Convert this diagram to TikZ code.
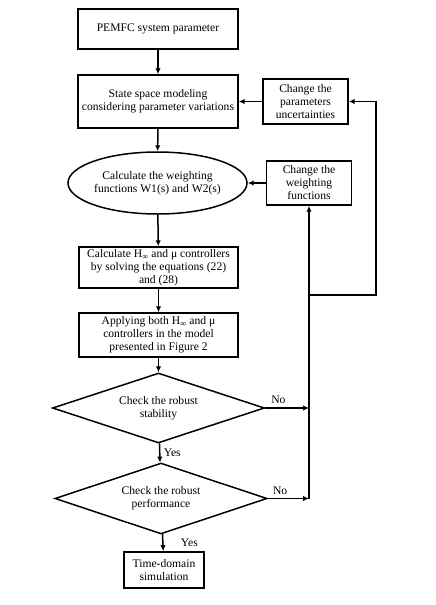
\documentclass[tikz,border=0pt]{standalone}
\usepackage{fontspec}
\setmainfont{Liberation Serif}
\usepackage{tikz}
\usetikzlibrary{arrows.meta}
\usetikzlibrary{shapes.geometric}

\begin{document}
\begin{tikzpicture}[x=1pt,y=-1pt]
\tikzset{>={Latex[width=1.9mm,length=2.1mm]}}
\tikzstyle{block} =[rectangle, draw, line width=1.5pt, align=center, inner sep=1pt,
  font=\fontsize{11.6}{13}\selectfont]
\tikzstyle{oval} =[ellipse, draw, line width=1.5pt, align=center, inner sep=0pt,
  font=\fontsize{11.6}{13}\selectfont]
\tikzstyle{decision} =[diamond, draw, line width=1.5pt, align=center, inner sep=0pt,
  shape aspect=3, font=\fontsize{11.6}{13}\selectfont]
\tikzstyle{link} =[->, line width=1.5pt]
\tikzstyle{tag} =[font=\fontsize{11.6}{13}\selectfont]

\useasboundingbox (0,0) rectangle (436,605);

\node[block,minimum width=160pt,minimum height=40pt](pemfc) at (158,29){PEMFC system parameter};
\node[block,minimum width=160pt,minimum height=53pt](model) at (158,101.5){State space modeling\\considering parameter variations};
\node[block,minimum width=85pt,minimum height=45pt](params) at (305.5,101.5){Change the\\parameters\\uncertainties};
\node[oval,minimum width=149pt,minimum height=62pt](weight) at (157.5,183){Calculate the weighting\\functions W1(s) and W2(s)};
\node[block,minimum width=85pt,minimum height=44pt](chweight) at (309,183){Change the\\weighting\\functions};
\node[block,minimum width=159pt,minimum height=41pt](ctrl) at (158.5,267.5){Calculate H\textsubscript{∞} and μ controllers\\by solving the equations (22)\\and (28)};
\node[block,minimum width=159pt,minimum height=44pt](apply) at (158.5,335){Applying both H\textsubscript{∞} and μ\\controllers in the model\\presented in Figure 2};
\node[decision,minimum width=212pt,minimum height=70pt](stab) at (158.5,408){Check the robust\\stability};
\node[decision,minimum width=212pt,minimum height=71pt](perf) at (161,498.5){Check the robust\\performance};
\node[block,minimum width=80pt,minimum height=36pt](sim) at (164,570){Time-domain\\simulation};

\coordinate (nostab) at (stab.east -| chweight.south);
\coordinate (noperf) at (perf.east -| chweight.south);
\coordinate (split) at (chweight.south |- 0,295);
\coordinate (corner) at (376,295);
\coordinate (top) at (376,101.5);

\draw [link] (pemfc) -- (model);
\draw [link] (model) -- (weight);
\draw [link] (weight) -- (ctrl);
\draw [link] (ctrl) -- (apply);
\draw [link] (apply) -- (stab);
\draw [link] (stab) -- node[tag,right]{Yes} (perf);
\draw [link] (perf) -- node[tag,right=14pt]{Yes} (sim);
\draw [link] (params) -- (model);
\draw [link] (chweight) -- (weight);
\draw [link] (stab.east) -- node[tag,above,pos=0.3]{No} (nostab);
\draw [link] (perf.east) -- node[tag,above,pos=0.3]{No} (noperf);
\draw [link] (noperf) -- (chweight.south);
\draw [link] (split) -- (corner) -- (top) -- (params.east);
\end{tikzpicture}
\end{document}
